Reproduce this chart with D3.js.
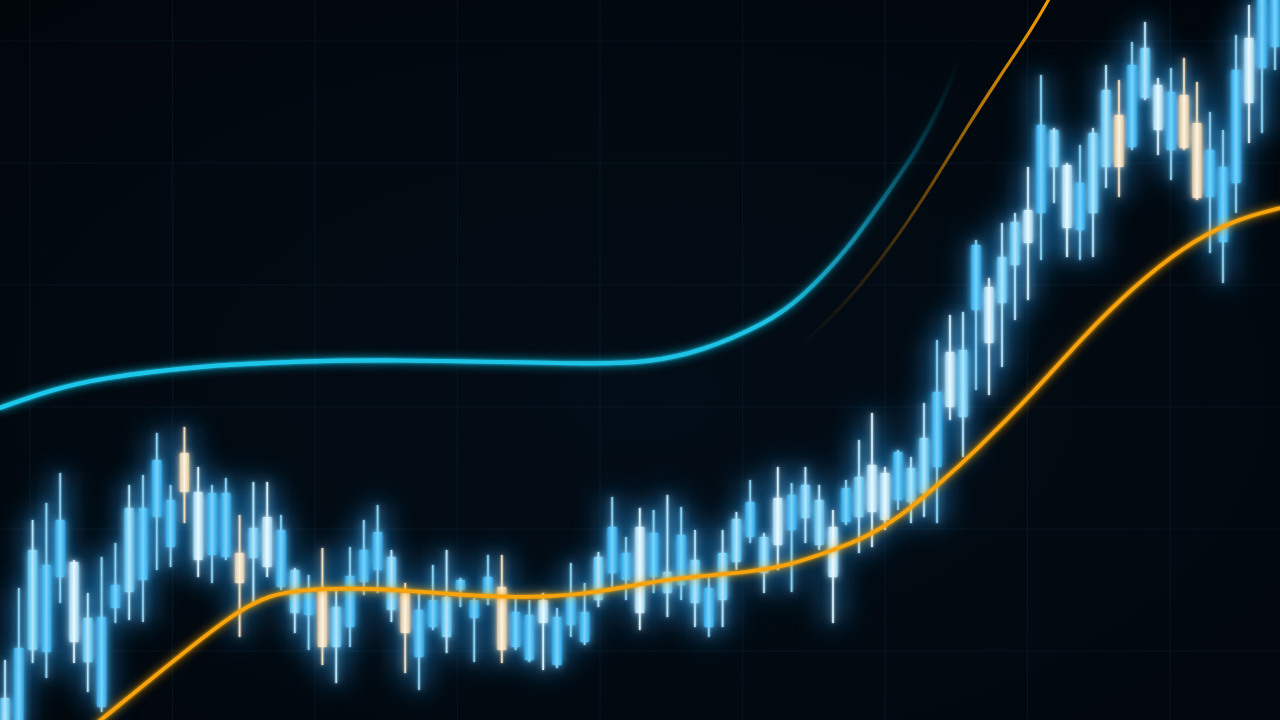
<!DOCTYPE html>
<html>
<head>
<meta charset="utf-8">
<script src="https://cdn.jsdelivr.net/npm/d3@7/dist/d3.min.js"></script>
<style>
  html, body { margin: 0; padding: 0; background: #02080f; overflow: hidden; }
  svg { display: block; }
</style>
</head>
<body>
<svg id="chart" width="1280" height="720"></svg>
<script>
// ---- Candle data (index = session number) ----
const highs  = [6.0,13.2,20.0,21.7,24.7,16.0,12.7,16.3,17.7,23.5,24.5,28.7,23.5,29.3,25.3,23.5,24.2,20.5,23.8,23.8,20.5,15.2,14.5,17.2,13.0,17.3,20.0,21.5,17.0,13.7,12.7,15.5,17.0,14.2,12.2,16.5,16.5,12.2,12.0,12.7,11.2,15.7,13.7,16.8,22.3,18.3,21.2,21.0,22.5,21.3,19.0,14.3,19.0,20.8,24.0,18.7,25.3,23.7,25.3,23.5,21.0,24.0,28.0,30.7,25.3,27.0,26.3,31.7,38.0,40.5,40.8,48.0,44.2,49.7,50.7,55.3,64.5,59.2,55.7,57.5,59.2,65.5,64.0,67.8,69.8,64.2,65.2,66.2,63.8,60.8,59.0,68.5,71.5,73.0,73.0];
const bodyTop = [2.2,7.2,17.0,15.5,20.0,15.8,10.2,10.3,13.5,21.2,21.2,26.0,22.0,26.7,22.8,22.7,22.7,16.7,19.2,20.3,19.0,15.0,12.7,13.0,11.3,14.4,17.0,18.8,16.3,12.7,11.0,12.0,12.3,14.0,12.0,14.3,13.3,10.8,10.5,12.0,10.3,12.3,10.8,16.3,19.3,16.7,19.3,18.7,14.8,18.5,16.0,13.2,16.7,20.1,21.8,18.3,22.2,22.5,23.5,22.0,19.3,23.2,24.3,25.5,24.7,26.8,25.2,28.2,32.8,36.8,37.0,47.5,43.3,46.3,49.8,51.0,59.5,59.0,55.5,53.7,58.7,63.0,60.5,65.5,67.2,63.5,62.8,62.5,59.7,57.0,55.3,65.0,68.2,72.5,72.5];
const bodyBottom = [-0.5,-0.5,7.0,6.8,14.3,7.8,5.8,1.3,11.2,12.8,14.0,20.3,17.3,22.8,16.0,16.5,16.3,13.7,16.2,15.3,13.3,10.7,10.5,7.3,7.3,9.3,13.8,15.0,11.0,8.7,6.3,9.3,8.3,13.0,10.2,12.2,7.0,7.3,6.0,9.7,5.5,9.5,7.8,12.0,14.7,14.0,10.7,14.3,12.7,13.5,11.7,9.3,12.0,15.8,18.3,14.7,17.5,19.0,20.2,17.5,14.3,19.8,20.3,20.8,20.0,22.0,21.8,22.7,25.3,31.3,30.3,41.0,37.7,41.7,45.5,47.7,50.7,55.3,49.2,49.0,50.7,55.3,55.3,57.3,62.2,59.0,57.0,57.2,52.2,52.3,47.8,53.7,61.7,65.2,67.3];
const lows   = [-1.0,-1.0,5.7,4.2,11.7,5.7,2.8,0.8,9.7,10.0,9.8,15.0,15.3,19.7,14.3,13.7,16.0,8.3,11.5,14.3,13.0,8.7,7.0,5.5,3.7,7.3,12.5,12.7,9.8,4.7,3.0,9.0,6.7,11.3,5.8,11.5,5.7,7.0,5.8,5.0,5.2,8.3,7.5,11.3,13.0,12.0,9.0,12.7,10.3,12.0,9.3,8.3,9.3,15.0,17.7,12.7,15.0,12.8,17.7,17.0,9.7,19.5,16.7,17.3,19.0,21.0,19.7,20.3,19.7,30.0,26.3,33.0,32.5,35.3,40.0,42.0,46.0,51.7,46.3,46.0,46.3,53.2,52.3,57.0,62.0,56.5,54.0,57.0,52.0,46.7,43.7,50.7,57.7,58.7,65.0];
// tone: b = blue, l = light blue, w = white, c = cream (10 candles per chunk)
const tones = ["lblbbwlbbl","bbbcwbbclw","blbclbbblc","bblbbbcbbw","bbblbbwblb",
               "lbllblwbll","wblwwbllbw","lbwllwblwb","llcblwbccb","bbwbb"].join("").split("");

// ---- Overlay lines: [session index, level] ----
const orangeAvg = [[6.5,-0.5],[10.5,4.0],[14.1,8.0],[17.0,11.0],[19.2,12.5],[21.4,13.0],[25.0,13.2],[28.6,13.0],[32.2,12.6],[35.9,12.3],[39.5,12.3],[43.1,12.8],[46.7,13.8],[50.4,14.4],[54.0,14.8],[56.9,15.5],[60.0,17.0],[62.1,18.0],[65.2,20.3],[68.5,24.0],[70.8,26.7],[75.4,32.7],[79.2,38.3],[83.1,43.3],[86.9,47.3],[90.8,50.0],[94.4,51.2]];
const cyanBand = [[-0.4,31.2],[3.3,33.0],[6.9,34.2],[14.1,35.4],[21.4,35.9],[28.6,36.0],[35.9,35.8],[43.1,35.6],[46.7,35.8],[50.4,36.8],[55.2,39.7],[57.6,42.0],[61.3,47.3],[63.8,52.0],[66.5,57.0],[68.5,62.0],[69.8,66.3]];
const orangeUpper = [[57.6,37.3],[61.3,42.0],[65.2,48.7],[67.7,53.7],[70.3,59.3],[72.8,64.3],[75.4,69.3],[76.7,72.3]];

const W = 1280, H = 720;
const svg = d3.select("#chart");

const x = d3.scaleLinear().domain([0, 60, 94]).range([5, 833, 1275]);
const y = d3.scaleLinear().domain([0, 72]).range([H, 0]);

const defs = svg.append("defs");

// background
const bg = defs.append("radialGradient").attr("id","bg").attr("cx","50%").attr("cy","55%").attr("r","75%");
bg.append("stop").attr("offset","0%").attr("stop-color","#030d17");
bg.append("stop").attr("offset","100%").attr("stop-color","#01060b");
svg.append("rect").attr("width",W).attr("height",H).attr("fill","url(#bg)");

// grid
const grid = svg.append("g").attr("stroke","#18283a").attr("stroke-opacity",0.35).attr("stroke-width",1.2);
grid.selectAll("line.v").data(d3.range(30, W, 142.5)).join("line")
  .attr("x1",d=>d).attr("x2",d=>d).attr("y1",0).attr("y2",H);
grid.selectAll("line.h").data(d3.range(41, H, 122)).join("line")
  .attr("x1",0).attr("x2",W).attr("y1",d=>d).attr("y2",d=>d);

// filters
function glowFilter(id, s1, s2) {
  const f = defs.append("filter").attr("id", id)
    .attr("x","-50%").attr("y","-50%").attr("width","200%").attr("height","200%");
  f.append("feGaussianBlur").attr("in","SourceGraphic").attr("stdDeviation",s1).attr("result","b1");
  f.append("feGaussianBlur").attr("in","SourceGraphic").attr("stdDeviation",s2).attr("result","b2");
  const m = f.append("feMerge");
  m.append("feMergeNode").attr("in","b1");
  m.append("feMergeNode").attr("in","b2");
  m.append("feMergeNode").attr("in","SourceGraphic");
}
glowFilter("glowLine", 5, 1.5);
glowFilter("glowCandle", 4, 1.2);
const haze = defs.append("filter").attr("id","haze")
  .attr("x","-20%").attr("y","-20%").attr("width","140%").attr("height","140%");
haze.append("feGaussianBlur").attr("stdDeviation",14);

// candle gradients
const toneStops = {
  b: ["#32aaea", "#78d4fa", "#32aaea"],
  l: ["#52bdee", "#b2e6fc", "#52bdee"],
  w: ["#98d6f2", "#f0faff", "#98d6f2"],
  c: ["#dcc6a0", "#fff5e4", "#dcc6a0"]
};
Object.entries(toneStops).forEach(([k, s]) => {
  const g = defs.append("linearGradient").attr("id","tone-"+k).attr("x1","0").attr("x2","1").attr("y1","0").attr("y2","0");
  g.append("stop").attr("offset","0%").attr("stop-color",s[0]);
  g.append("stop").attr("offset","50%").attr("stop-color",s[1]);
  g.append("stop").attr("offset","100%").attr("stop-color",s[2]);
});
const wickColor = { b: "#86d0f2", l: "#aee2f8", w: "#d2eefa", c: "#efdcbc" };

const candles = highs.map((h, i) => ({
  i, high: h, low: lows[i],
  top: Math.max(bodyTop[i], bodyBottom[i]), bot: Math.min(bodyTop[i], bodyBottom[i]),
  tone: tones[i] || "b"
}));

const bw = 9;

// haze under candles
svg.append("g").attr("filter","url(#haze)").attr("opacity",0.6)
  .selectAll("rect").data(candles).join("rect")
  .attr("x", d => x(d.i) - bw)
  .attr("width", bw * 2)
  .attr("y", d => y(d.high))
  .attr("height", d => y(d.low) - y(d.high))
  .attr("fill", "#1f86d0");

// cyan line with fade
const cg = defs.append("linearGradient").attr("id","cyanFade").attr("gradientUnits","userSpaceOnUse")
  .attr("x1", x(-0.4)).attr("x2", x(69.8)).attr("y1",0).attr("y2",0);
cg.append("stop").attr("offset","0%").attr("stop-color","#1cc8ec").attr("stop-opacity",1);
cg.append("stop").attr("offset","80%").attr("stop-color","#1cc2e4").attr("stop-opacity",1);
cg.append("stop").attr("offset","90%").attr("stop-color","#159fbf").attr("stop-opacity",0.55);
cg.append("stop").attr("offset","100%").attr("stop-color","#0e6a80").attr("stop-opacity",0);

const og = defs.append("linearGradient").attr("id","orangeFade").attr("gradientUnits","userSpaceOnUse")
  .attr("x1", x(57.6)).attr("x2", x(76.7)).attr("y1",0).attr("y2",0);
og.append("stop").attr("offset","0%").attr("stop-color","#7a4a00").attr("stop-opacity",0);
og.append("stop").attr("offset","35%").attr("stop-color","#a86800").attr("stop-opacity",0.35);
og.append("stop").attr("offset","75%").attr("stop-color","#e08e00").attr("stop-opacity",0.85);
og.append("stop").attr("offset","100%").attr("stop-color","#f59c00").attr("stop-opacity",1);

const line = d3.line().x(d => x(d[0])).y(d => y(d[1])).curve(d3.curveBasis);

svg.append("path").datum(cyanBand).attr("d", line)
  .attr("fill","none").attr("stroke","url(#cyanFade)").attr("stroke-width",4.2)
  .attr("stroke-linecap","round").attr("filter","url(#glowLine)");

svg.append("path").datum(orangeUpper).attr("d", line)
  .attr("fill","none").attr("stroke","url(#orangeFade)").attr("stroke-width",3.2)
  .attr("stroke-linecap","round");

// candles
const cgroup = svg.append("g").attr("filter","url(#glowCandle)");
cgroup.selectAll("line").data(candles).join("line")
  .attr("x1", d => x(d.i)).attr("x2", d => x(d.i))
  .attr("y1", d => y(d.high)).attr("y2", d => y(d.low))
  .attr("stroke", d => wickColor[d.tone]).attr("stroke-width",1.7);
cgroup.selectAll("rect").data(candles).join("rect")
  .attr("x", d => x(d.i) - bw / 2)
  .attr("width", bw)
  .attr("y", d => y(d.top))
  .attr("height", d => Math.max(2, y(d.bot) - y(d.top)))
  .attr("rx", 1)
  .attr("fill", d => "url(#tone-" + d.tone + ")");

// main orange average line (in front)
svg.append("path").datum(orangeAvg).attr("d", line)
  .attr("fill","none").attr("stroke","#f7a30c").attr("stroke-width",3.6)
  .attr("stroke-linecap","round").attr("filter","url(#glowLine)");
</script>
</body>
</html>
